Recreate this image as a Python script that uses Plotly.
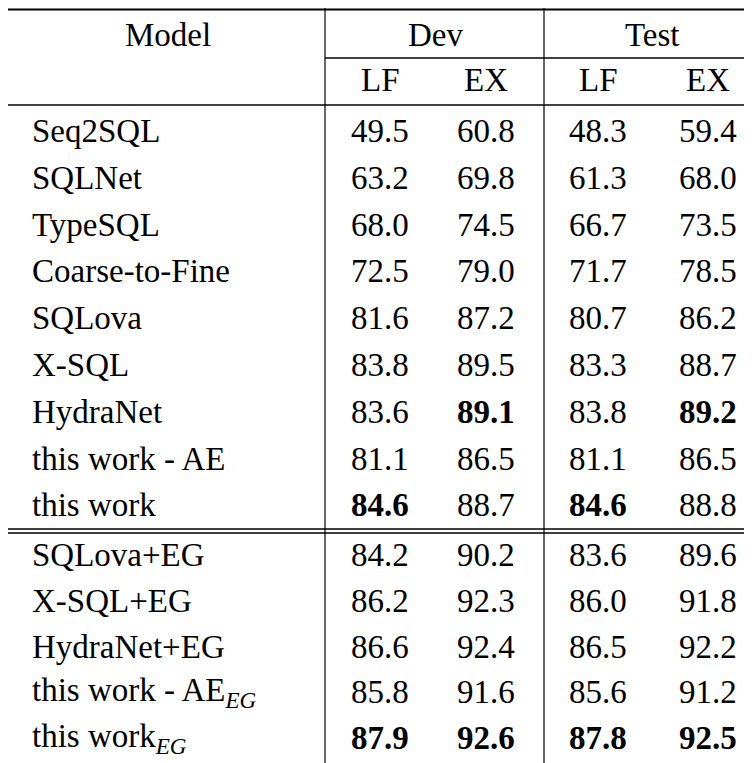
import plotly.graph_objects as go

models = ["Seq2SQL", "SQLNet", "TypeSQL", "Coarse-to-Fine", "SQLova", "X-SQL", "HydraNet",
          "this work - AE", "this work",
          "SQLova+EG", "X-SQL+EG", "HydraNet+EG", "this work - AE<sub><i>EG</i></sub>", "this work<sub><i>EG</i></sub>"]
dev_lf = ["49.5", "63.2", "68.0", "72.5", "81.6", "83.8", "83.6", "81.1", "84.6", "84.2", "86.2", "86.6", "85.8", "87.9"]
dev_ex = ["60.8", "69.8", "74.5", "79.0", "87.2", "89.5", "89.1", "86.5", "88.7", "90.2", "92.3", "92.4", "91.6", "92.6"]
test_lf = ["48.3", "61.3", "66.7", "71.7", "80.7", "83.3", "83.8", "81.1", "84.6", "83.6", "86.0", "86.5", "85.6", "87.8"]
test_ex = ["59.4", "68.0", "73.5", "78.5", "86.2", "88.7", "89.2", "86.5", "88.8", "89.6", "91.8", "92.2", "91.2", "92.5"]
bold = {(8, 0), (6, 1), (8, 2), (6, 3), (13, 0), (13, 1), (13, 2), (13, 3)}
headers_top = ["Model", "Dev", "Test"]
headers_sub = ["LF", "EX", "LF", "EX"]

FONT = dict(family="'Times New Roman', 'Liberation Serif', Tinos, serif", size=33, color="black")
col_x = [372, 478, 590, 700]
row_y = [123 + 46.8 * i for i in range(9)] + [547 + 45.8 * i for i in range(5)]

fig = go.Figure()
ann = []
def add(x, y, t, anchor="center"):
    ann.append(dict(x=x, y=y, text=t, showarrow=False, xanchor=anchor, yanchor="middle",
                    font=FONT, xref="x", yref="y"))

add(160, 27, headers_top[0]); add(427, 27, headers_top[1]); add(644, 27, headers_top[2])
for x, h in zip(col_x, headers_sub):
    add(x, 72, h)
cols = [dev_lf, dev_ex, test_lf, test_ex]
for i, m in enumerate(models):
    add(22, row_y[i], m, "left")
    for j, c in enumerate(cols):
        t = c[i]
        if (i, j) in bold:
            t = "<b>" + t + "</b>"
        add(col_x[j], row_y[i], t)

shapes = []
def hl(y, x0=0, x1=752, w=1.5):
    shapes.append(dict(type="line", x0=x0, x1=x1, y0=y, y1=y, xref="x", yref="y",
                       line=dict(color="black", width=w)))
hl(1.5, w=2)
hl(50, 317, 752)
hl(97)
hl(521); hl(525)
hl(756); hl(760)
for x in (317, 536):
    shapes.append(dict(type="line", x0=x, x1=x, y0=0, y1=760, xref="x", yref="y",
                       line=dict(color="black", width=1.2)))

fig.update_layout(width=752, height=763, margin=dict(l=0, r=0, t=0, b=0),
                  plot_bgcolor="white", paper_bgcolor="white",
                  annotations=ann, shapes=shapes, showlegend=False,
                  xaxis=dict(range=[0, 752], visible=False, fixedrange=True),
                  yaxis=dict(range=[763, 0], visible=False, fixedrange=True))
fig.write_html("out.html")
